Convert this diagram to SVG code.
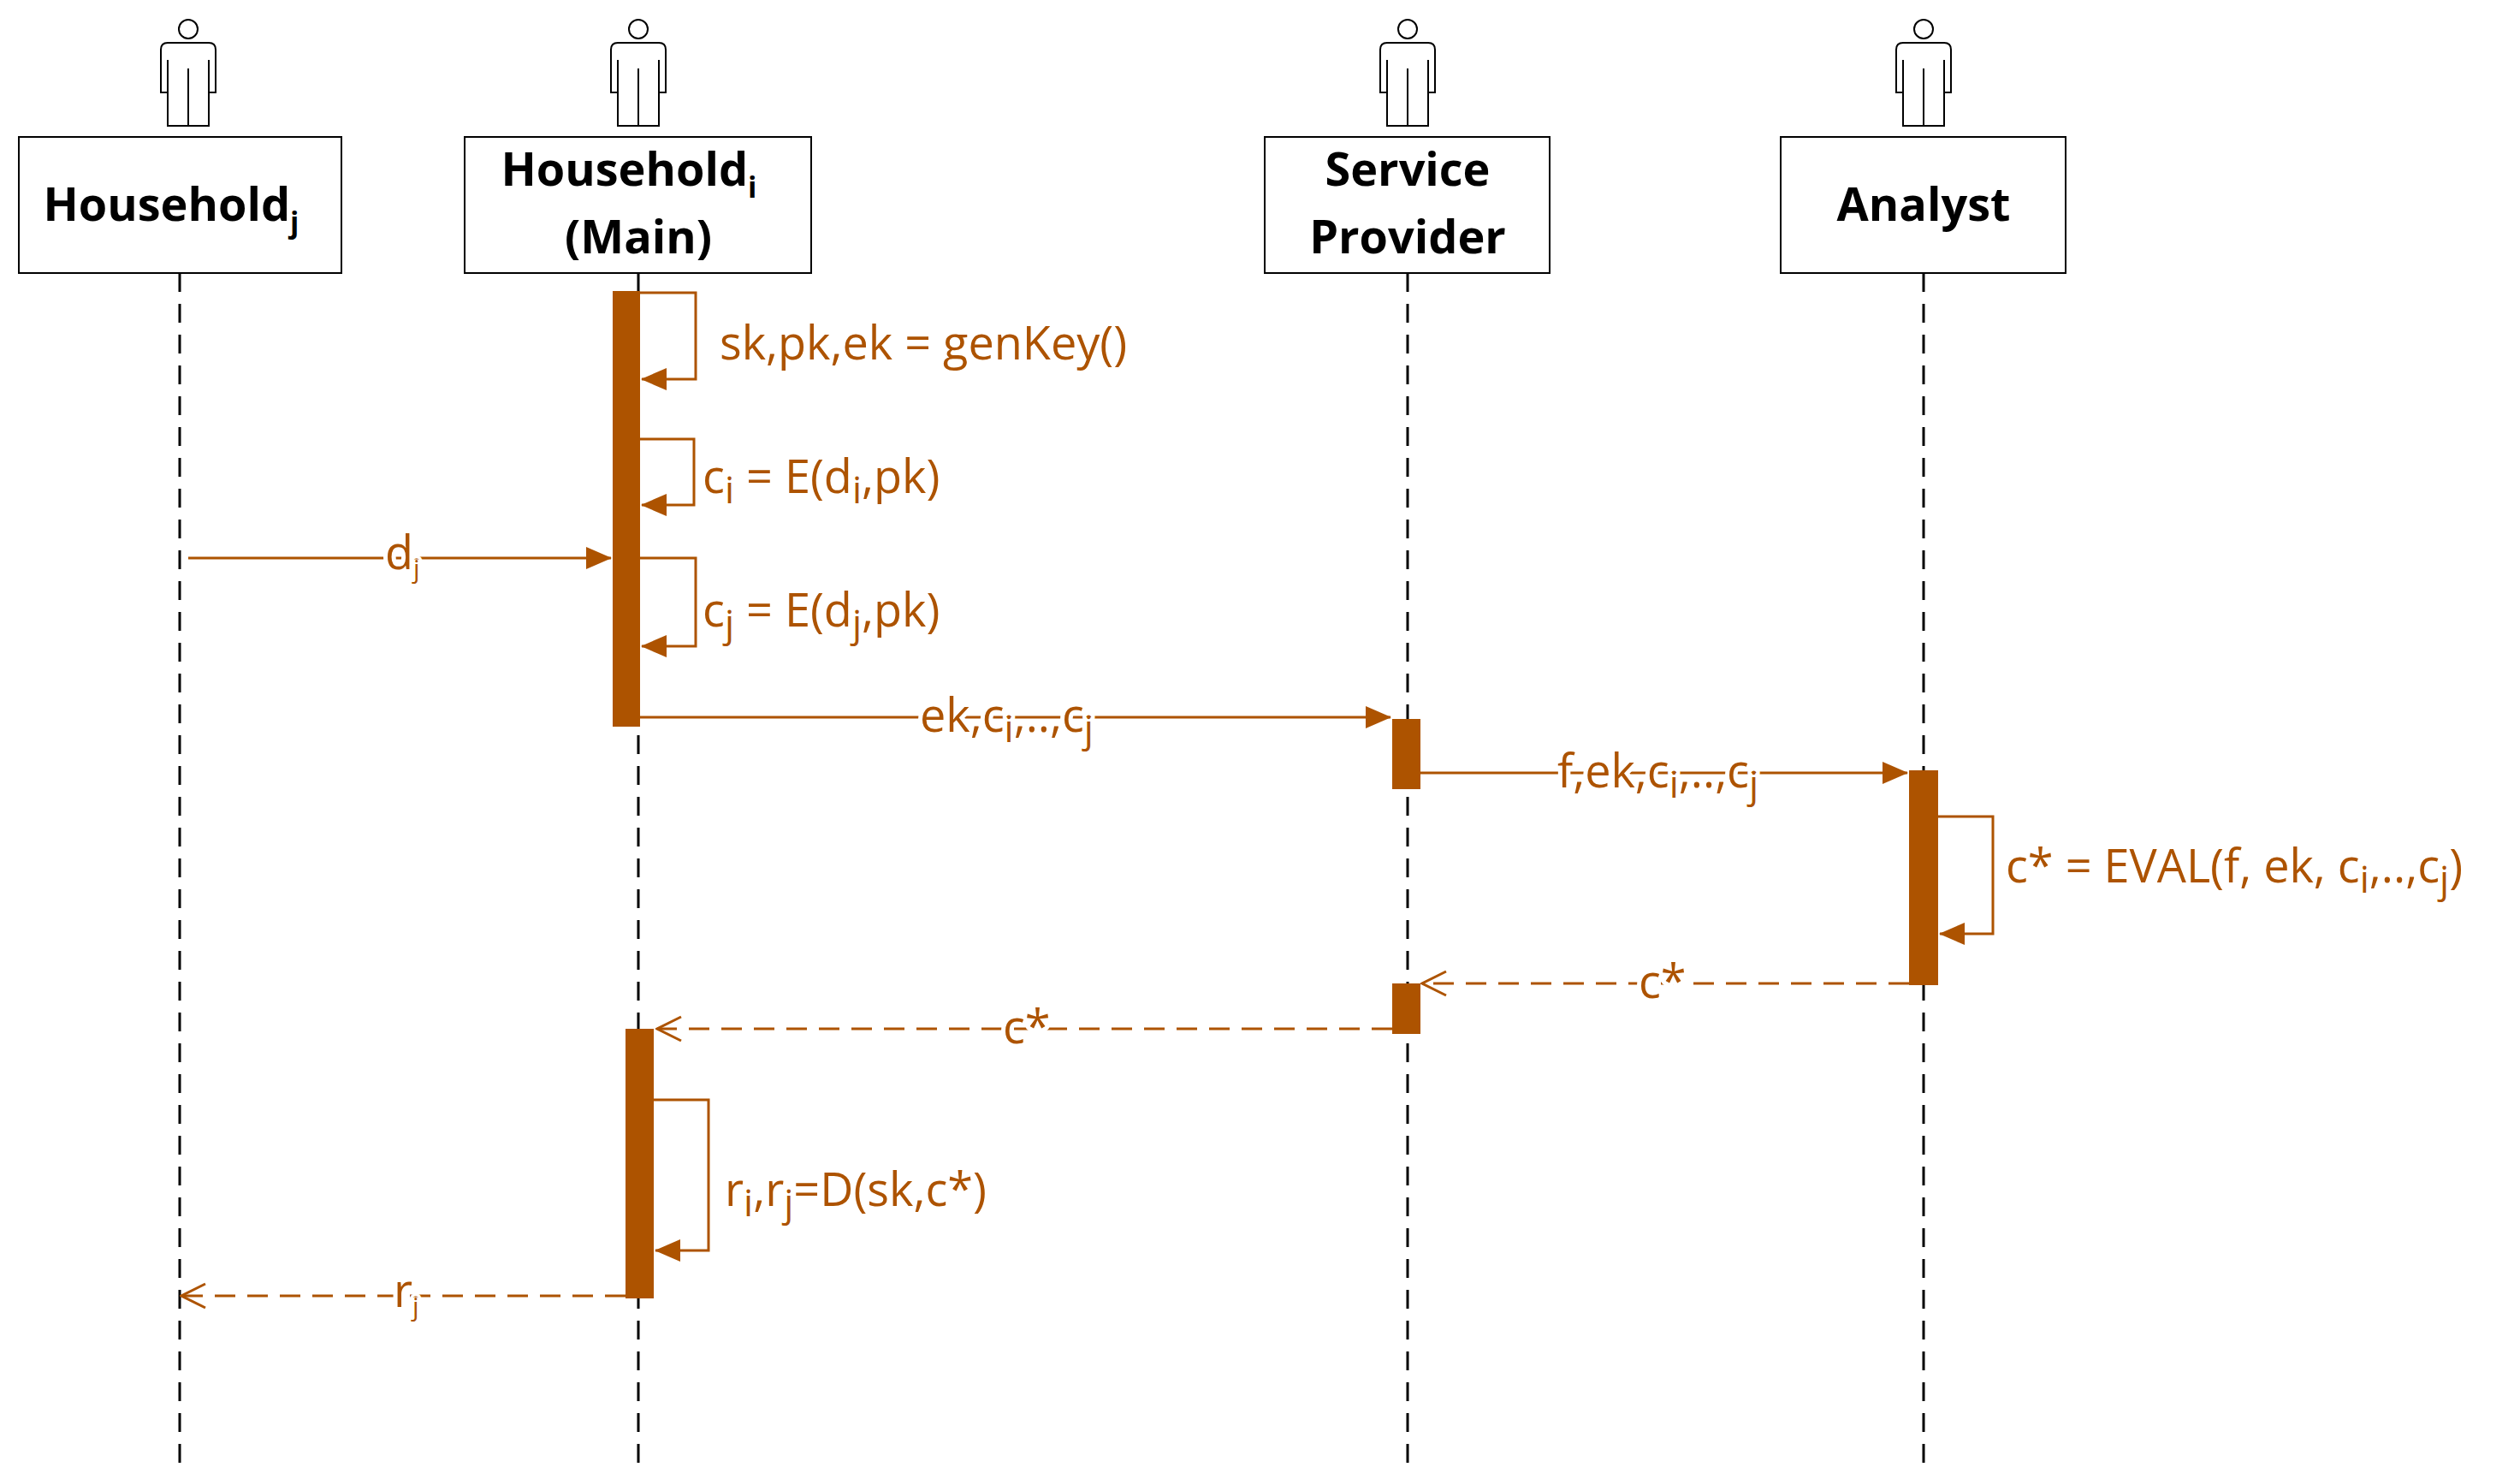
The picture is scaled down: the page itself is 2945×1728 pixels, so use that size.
<svg xmlns="http://www.w3.org/2000/svg" width="2945" height="1728" viewBox="0 0 2945 1728">
<style>
.box{fill:#fff;stroke:#000;stroke-width:2}
.hd{font-family:"Open Sans","Liberation Sans",sans-serif;font-weight:bold;font-size:54px;fill:#000;text-anchor:middle}
.life{stroke:#000;stroke-width:3;stroke-dasharray:22,14;fill:none}
.act{fill:#AD5300}
.msg{stroke:#AD5300;stroke-width:3;fill:none}
.ret{stroke:#AD5300;stroke-width:3;fill:none;stroke-dasharray:24,14}
.lbl{font-family:"Open Sans","Liberation Sans",sans-serif;font-size:54px;fill:#AD5300;stroke:#fff;stroke-width:10;paint-order:stroke;stroke-linejoin:round}
.sm{font-size:44px}
.actor{fill:#fff;stroke:#000;stroke-width:2}
</style>
<defs>
<marker id="fa" markerWidth="12" markerHeight="12" refX="11" refY="6" orient="auto" markerUnits="userSpaceOnUse" viewBox="0 0 12 12"><path d="M0,0 L12,6 L0,12 z" fill="#AD5300"/></marker>
<marker id="fb" viewBox="0 0 30 30" markerWidth="30" markerHeight="30" refX="29" refY="15" orient="auto" markerUnits="userSpaceOnUse"><path d="M0,2 L30,15 L0,28 z" fill="#AD5300"/></marker>
<marker id="oa" viewBox="0 0 32 32" markerWidth="32" markerHeight="32" refX="30" refY="16" orient="auto" markerUnits="userSpaceOnUse"><path d="M2,2 L30,16 L2,30" fill="none" stroke="#AD5300" stroke-width="3"/></marker>
<g id="actorIcon"><circle cx="0" cy="34" r="11" class="actor"/><path class="actor" d="M-24,50 H24 Q32,50 32,58 V108 H24 V70 M24,108 V147 H-24 V70 M-24,108 H-32 V58 Q-32,50 -24,50 M0,80 V147"/></g>
</defs>
<g id="lifelines">
<path class="life" d="M210,319 V1709 M746,319 V1709 M1645,319 V1709 M2248,319 V1709"/>
</g>
<g id="node-householdj"><use href="#actorIcon" x="220"/><rect class="box" x="22" y="160" width="377" height="159"/><text class="hd" x="200" y="258">Household<tspan font-size="34" dy="14">j</tspan></text></g>
<g id="node-householdi"><use href="#actorIcon" x="746"/><rect class="box" x="543" y="160" width="405" height="159"/><text class="hd" x="735" y="217">Household<tspan font-size="34" dy="14">i</tspan></text><text class="hd" x="746" y="296">(Main)</text></g>
<g id="node-sp"><use href="#actorIcon" x="1645"/><rect class="box" x="1478" y="160" width="333" height="159"/><text class="hd" x="1645" y="217">Service</text><text class="hd" x="1645" y="296">Provider</text></g>
<g id="node-analyst"><use href="#actorIcon" x="2248"/><rect class="box" x="2081" y="160" width="333" height="159"/><text class="hd" x="2248" y="258">Analyst</text></g>
<g id="activations">
<rect class="act" x="716" y="340" width="32" height="509"/>
<rect class="act" x="731" y="1202" width="33" height="315"/>
<rect class="act" x="1627" y="840" width="33" height="82"/>
<rect class="act" x="1627" y="1149" width="33" height="59"/>
<rect class="act" x="2231" y="900" width="34" height="251"/>
</g>
<g id="connectors">
<path class="msg" d="M748,342 H813 V443 H750" marker-end="url(#fb)"/>
<path class="msg" d="M748,513 H811 V590 H750" marker-end="url(#fb)"/>
<path class="msg" d="M220,652 H714" marker-end="url(#fb)"/>
<path class="msg" d="M748,652 H813 V755 H750" marker-end="url(#fb)"/>
<path class="msg" d="M748,838 H1625" marker-end="url(#fb)"/>
<path class="msg" d="M1660,903 H2229" marker-end="url(#fb)"/>
<path class="msg" d="M2265,954 H2329 V1091 H2267" marker-end="url(#fb)"/>
<path class="msg" d="M764,1285 H828 V1461 H766" marker-end="url(#fb)"/>
<path class="ret" d="M2231,1149 H1662" marker-end="url(#oa)"/>
<path class="ret" d="M1627,1202 H768" marker-end="url(#oa)"/>
<path class="ret" d="M731,1514 H212" marker-end="url(#oa)"/>
</g>
<g id="labels">
<text class="lbl" x="841" y="420">sk,pk,ek = genKey()</text>
<text class="lbl" x="821" y="576">c<tspan class="sm" dy="12">i</tspan><tspan dy="-12"> = E(d</tspan><tspan class="sm" dy="12">i</tspan><tspan dy="-12">,pk)</tspan></text>
<text class="lbl" x="450" y="665" font-size="40">d<tspan font-size="30" dy="10">j</tspan></text>
<text class="lbl" x="821" y="732">c<tspan class="sm" dy="12">j</tspan><tspan dy="-12"> = E(d</tspan><tspan class="sm" dy="12">j</tspan><tspan dy="-12">,pk)</tspan></text>
<text class="lbl" x="1075" y="855">ek,c<tspan class="sm" dy="12">i</tspan><tspan dy="-12">,..,c</tspan><tspan class="sm" dy="12">j</tspan></text>
<text class="lbl" x="1820" y="920">f,ek,c<tspan class="sm" dy="12">i</tspan><tspan dy="-12">,..,c</tspan><tspan class="sm" dy="12">j</tspan></text>
<text class="lbl" x="2344" y="1031">c* = EVAL(f, ek, c<tspan class="sm" dy="12">i</tspan><tspan dy="-12">,..,c</tspan><tspan class="sm" dy="12">j</tspan><tspan dy="-12">)</tspan></text>
<text class="lbl" x="1915" y="1166">c*</text>
<text class="lbl" x="1172" y="1219">c*</text>
<text class="lbl" x="847" y="1409">r<tspan class="sm" dy="12">i</tspan><tspan dy="-12">,r</tspan><tspan class="sm" dy="12">j</tspan><tspan dy="-12">=D(sk,c*)</tspan></text>
<text class="lbl" x="460" y="1527" font-size="40">r<tspan font-size="30" dy="10">j</tspan></text>
</g>
</svg>
